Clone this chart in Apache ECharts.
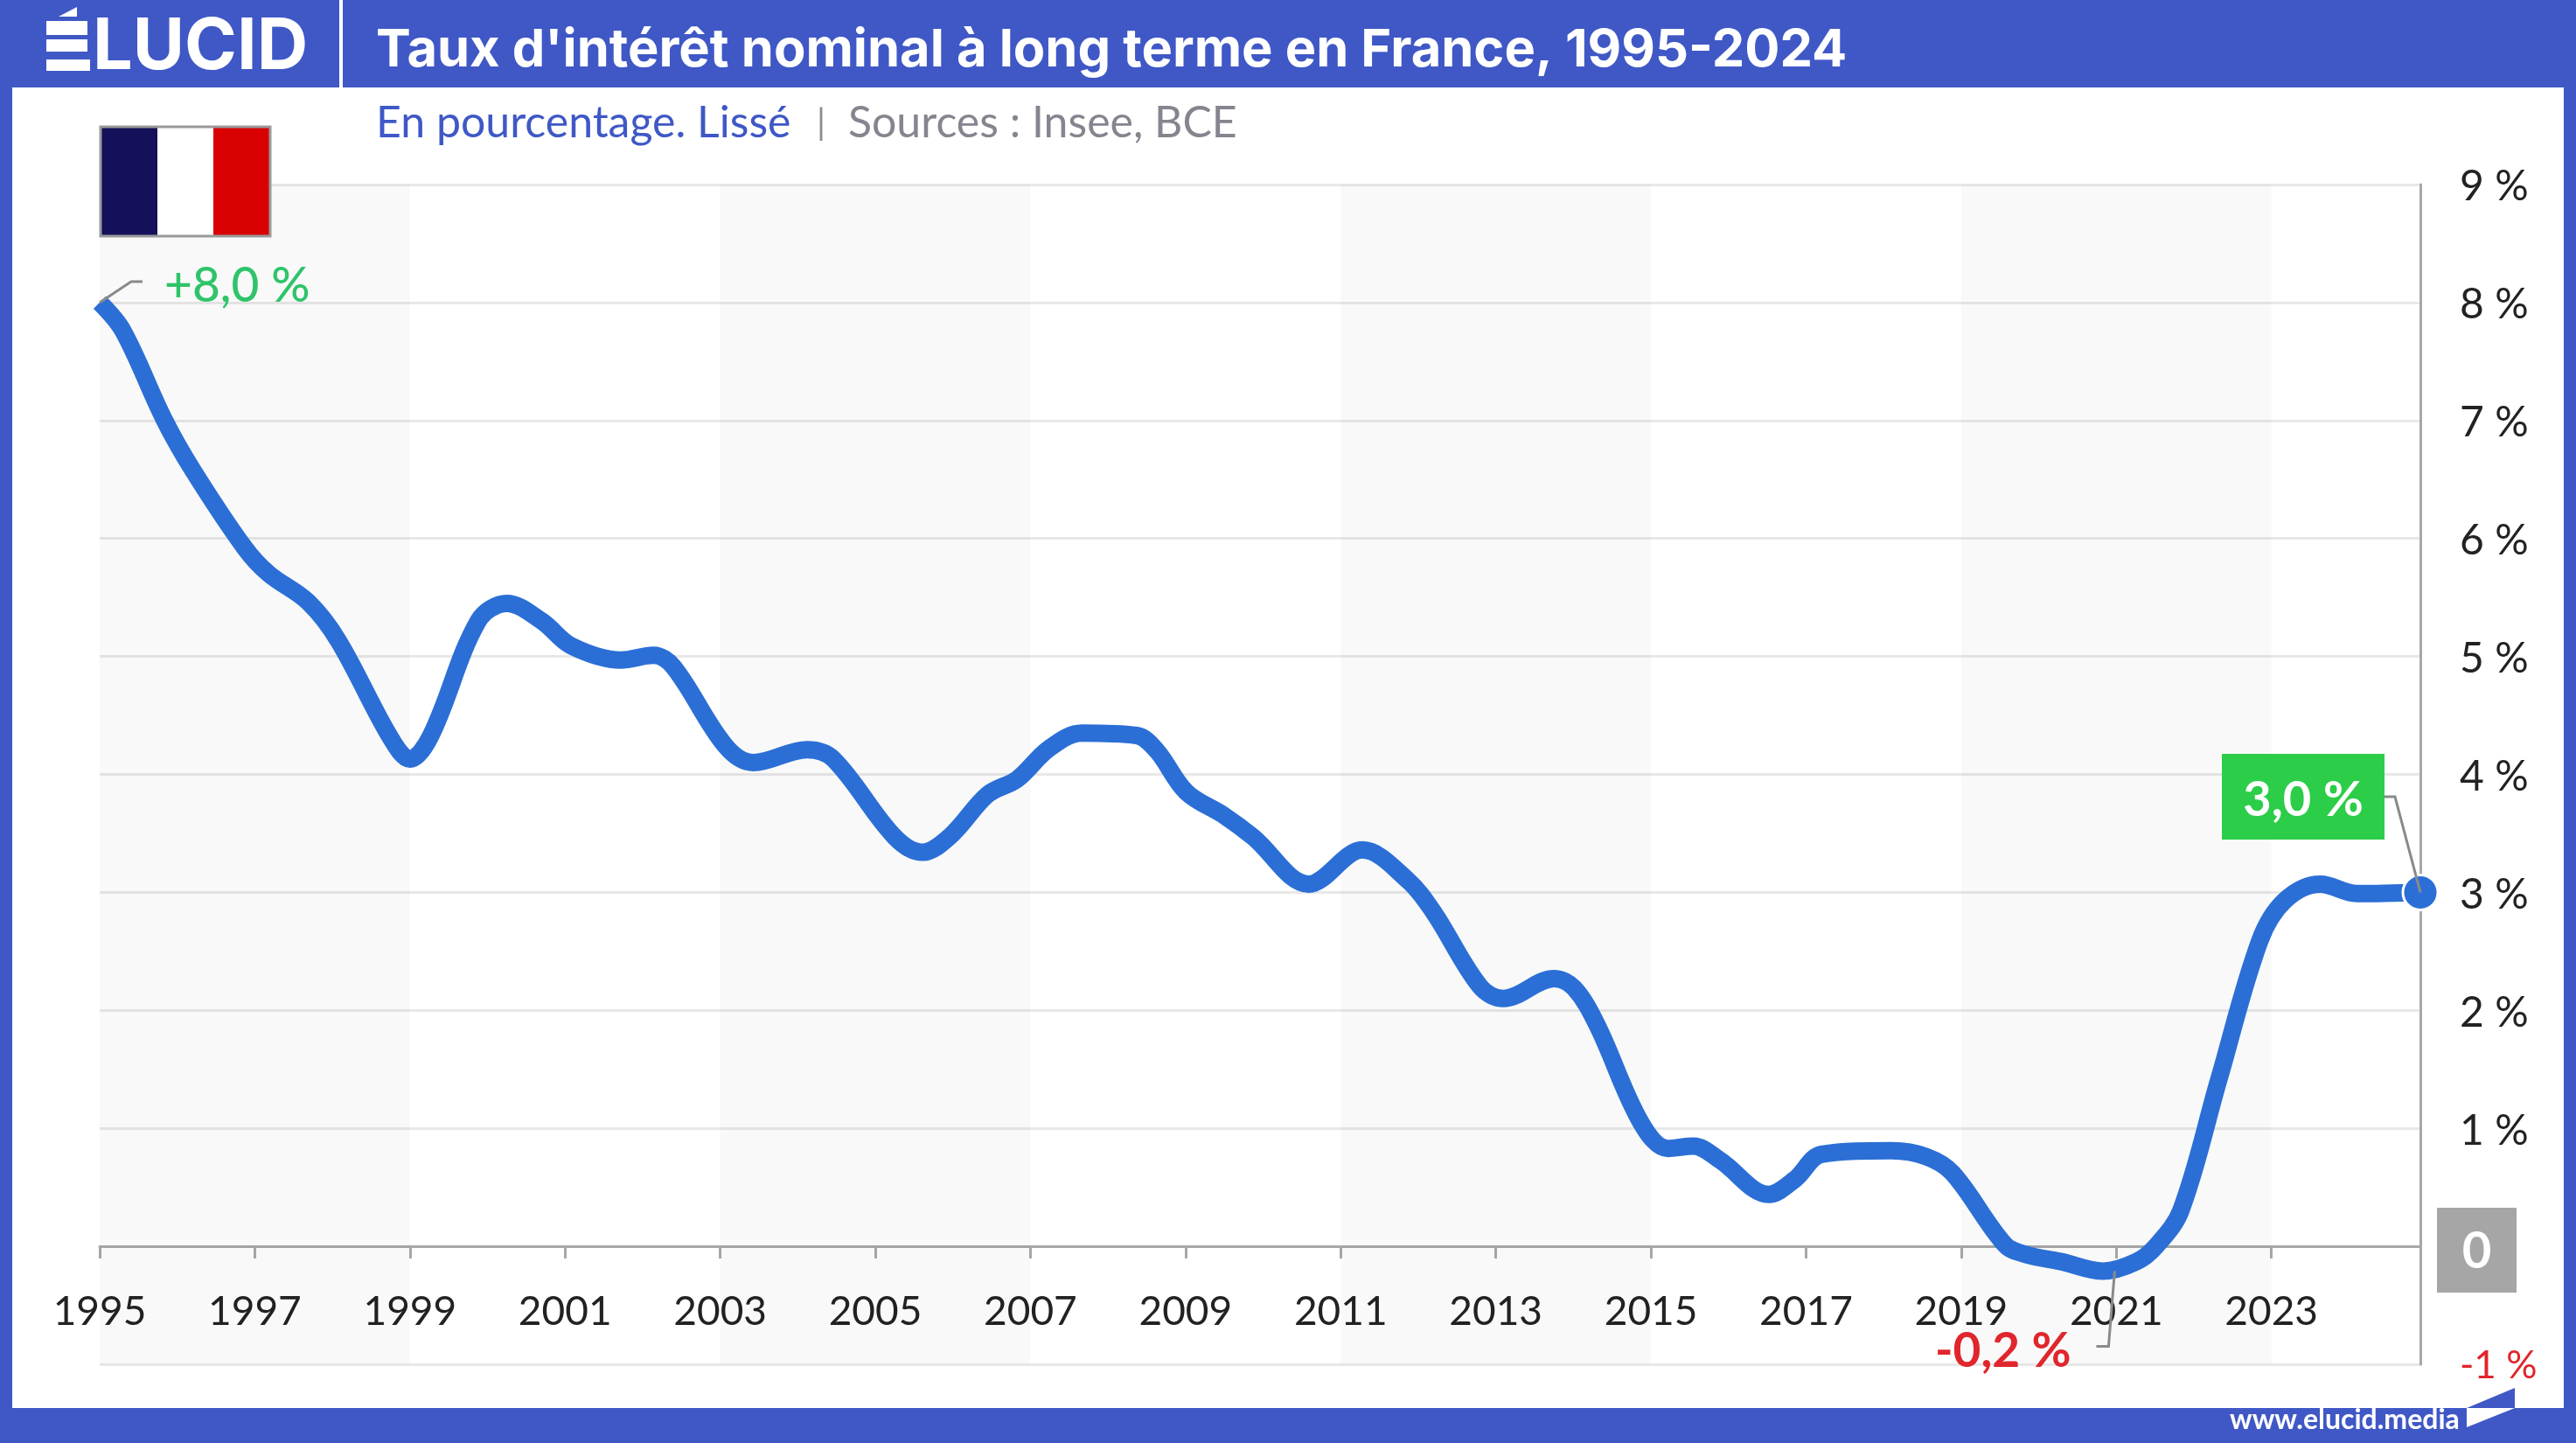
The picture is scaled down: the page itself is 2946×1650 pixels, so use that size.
<!DOCTYPE html>
<html lang="fr"><head><meta charset="utf-8"><title>Taux d'intérêt nominal</title>
<style>html,body{margin:0;padding:0;background:#fff}#c{width:2946px;height:1650px}</style>
<script src="https://cdn.jsdelivr.net/npm/echarts@6/dist/echarts.min.js"></script></head>
<body><div id="c"></div>
<script>
const titleText = "Taux d'intérêt nominal à long terme en France, 1995-2024";
const subtitleText = "En pourcentage. Lissé";
const sourceText = "Sources : Insee, BCE";
const yearTicks = [1995,1997,1999,2001,2003,2005,2007,2009,2011,2013,2015,2017,2019,2021,2023];
const bandEdges = [[1995,1999],[2003,2007],[2011,2015],[2019,2023]];
const years = [1995,1995.3,1995.83,1996.2,1996.87,1997.18,1997.69,1998.08,1998.75,1999.0,1999.27,1999.88,2000.25,2000.7,2001.08,2001.72,2002.14,2002.4,2003.07,2003.43,2004.12,2004.46,2005.25,2005.61,2005.97,2006.45,2006.83,2007.24,2007.66,2008.37,2008.63,2009.01,2009.5,2009.87,2010.59,2011.28,2011.87,2012.2,2012.8,2013.1,2013.75,2014.01,2014.31,2014.87,2015.22,2015.55,2015.89,2016.52,2016.86,2017.2,2018.1,2018.55,2018.89,2019.57,2019.84,2020.29,2020.83,2021.26,2021.51,2021.83,2022.32,2022.85,2023.17,2023.63,2024.1,2024.92];
const rates = [8.0,7.76,7.01,6.58,5.92,5.70,5.46,5.13,4.31,4.13,4.33,5.30,5.45,5.30,5.09,4.97,5.01,4.91,4.24,4.10,4.21,4.13,3.47,3.34,3.48,3.83,3.96,4.22,4.35,4.33,4.20,3.85,3.65,3.47,3.07,3.36,3.10,2.83,2.20,2.10,2.27,2.19,1.87,1.05,0.83,0.85,0.73,0.44,0.57,0.78,0.81,0.76,0.62,0.01,-0.07,-0.13,-0.21,-0.13,0.0,0.30,1.41,2.59,2.93,3.07,2.99,3.00];
const firstLabel = "+8,0 %", minLabel = "-0,2 %", lastLabel = "3,0 %", minYear = 2020.9, minRate = -0.21;

const BLUE="#3f58c6", LINE="#2b6fd6", GREY="#8a8a8a", FONT="Lato", TXT="#222";
const chart = echarts.init(document.getElementById('c'), null, {renderer:'canvas', devicePixelRatio:1});
const n = years.length;
const poly=(points,stroke)=>({type:'polyline',z:50,silent:true,shape:{points},style:{stroke:stroke||GREY,lineWidth:3,fill:null}});
const tri=(points,fill)=>({type:'polygon',z:60,silent:true,shape:{points},style:{fill}});
const rect=(x,y,w,h,fill,z,extra)=>({type:'rect',z:z||0,silent:true,shape:{x,y,width:w,height:h},style:Object.assign({fill},extra||{})});
const text=(x,y,t,font,fill,align,z)=>({type:'text',z:z||60,silent:true,x,y,style:{text:t,font,fill,textAlign:align||'left',textVerticalAlign:'middle'}});

chart.setOption({
  animation:false, backgroundColor:'#fff', tooltip:{show:false},
  grid:{left:114,right:178,top:211,bottom:90,containLabel:false,outerBoundsMode:'none'},
  xAxis:{type:'value',min:1995,max:2024.92,
    axisLine:{onZero:true,lineStyle:{color:'#a8a8a8',width:3}},
    axisTick:{show:true,length:14,customValues:yearTicks,lineStyle:{color:'#a8a8a8',width:3}},
    axisLabel:{show:true,customValues:yearTicks,margin:-83,color:TXT,fontFamily:FONT,fontSize:46,fontWeight:400,showMinLabel:true,hideOverlap:false,formatter:v=>String(v)},
    splitLine:{show:false}},
  yAxis:{type:'value',position:'right',min:-1,max:9,interval:1,
    axisLine:{show:true,onZero:false,lineStyle:{color:'#a8a8a8',width:3}},
    axisTick:{show:false},
    splitLine:{show:true,lineStyle:{color:'#e8e8e8',width:3}},
    axisLabel:{margin:19,align:'left',formatter:v=>v===0?'{z|0}':(v<0?'{r|'+v+' %}':'{n|'+v+' %}'),
      rich:{
        n:{fontFamily:FONT,fontSize:48,color:TXT,padding:[6,0,0,26]},
        r:{fontFamily:FONT,fontSize:44,color:'#e0262c',padding:[4,0,0,26]},
        z:{fontFamily:FONT,fontSize:58,fontWeight:700,color:'#fff',width:91,align:'center',padding:[12,0,0,0]}
      }}},
  series:[
    {name:'bands',type:'line',data:[],z:1,silent:true,
     markArea:{silent:true,itemStyle:{color:'rgba(0,0,0,0.024)'},data:bandEdges.map(b=>[{xAxis:b[0]},{xAxis:b[1]}])}},
    {name:'Taux',type:'line',smooth:0.35,z:5,showSymbol:false,clip:true,
     data:years.map((y,i)=>[y,rates[i]]),lineStyle:{color:LINE,width:20,cap:'butt',join:'round'}},
    {name:'Dernier',type:'scatter',z:6,symbolSize:40,clip:false,silent:true,
     data:[[years[n-1],rates[n-1]]],itemStyle:{color:LINE,opacity:1,borderColor:'#fff',borderWidth:3}}
  ]
});

const P=(x,y)=>chart.convertToPixel({gridIndex:0},[x,y]);
const p0=P(years[0],rates[0]), pN=P(years[n-1],rates[n-1]), pM=P(minYear,minRate);

chart.setOption({graphic:{elements:[
  rect(0,0,2946,100,BLUE,-10), rect(0,1610,2946,40,BLUE,-10),
  rect(0,100,14,1510,BLUE,-10), rect(2932,100,14,1510,BLUE,-10),
  rect(2787,1381,91,97,'#a6a6a6',-5),
  rect(388,0,4,100,'#fff',40),
  rect(53,24,47,16,'#fff',60), rect(53,45,47,14,'#fff',60), rect(53,68,50,13,'#fff',60),
  tri([[67,19],[88,8],[88,19]],'#fff'),
  text(106,55,'LUCID','700 81px Inter','#fff'),
  text(430,58,titleText,'700 59.6px Inter','#fff'),
  text(430,141,subtitleText,'400 50px '+FONT,BLUE),
  text(934,141,'|','400 40px '+FONT,'#8d8d8d'),
  text(970,141,sourceText,'400 50px '+FONT,'#85858f'),
  rect(115,145,65,125,'#15105a',45), rect(180,145,64,125,'#fff',45), rect(244,145,65,125,'#d80000',45),
  rect(115,145,194,125,'transparent',46,{stroke:'#9a9a9a',lineWidth:3}),
  poly([[p0[0],p0[1]],[p0[0]+36,p0[1]-24],[p0[0]+49,p0[1]-24]]),
  text(188,327,firstLabel,'500 55px '+FONT,'#2fc46a'),
  poly([[pM[0]+7,pM[1]],[pM[0],pM[1]+86],[pM[0]-14,pM[1]+86]]),
  text(2213,1545,minLabel,'700 55px '+FONT,'#e0262c'),
  rect(2541,862,186,98,'#2ccd48',45),
  text(2634,915,lastLabel,'700 56px '+FONT,'#fff','center'),
  poly([[2727,911],[2739,911],[pN[0],pN[1]]]),
  text(2550,1624,'www.elucid.media','700 32px '+FONT,'#fff'),
  tri([[2821,1610],[2876,1587],[2876,1610]],BLUE),
  tri([[2821,1610],[2876,1610],[2821,1632]],'#fff')
]}});
</script></body></html>
